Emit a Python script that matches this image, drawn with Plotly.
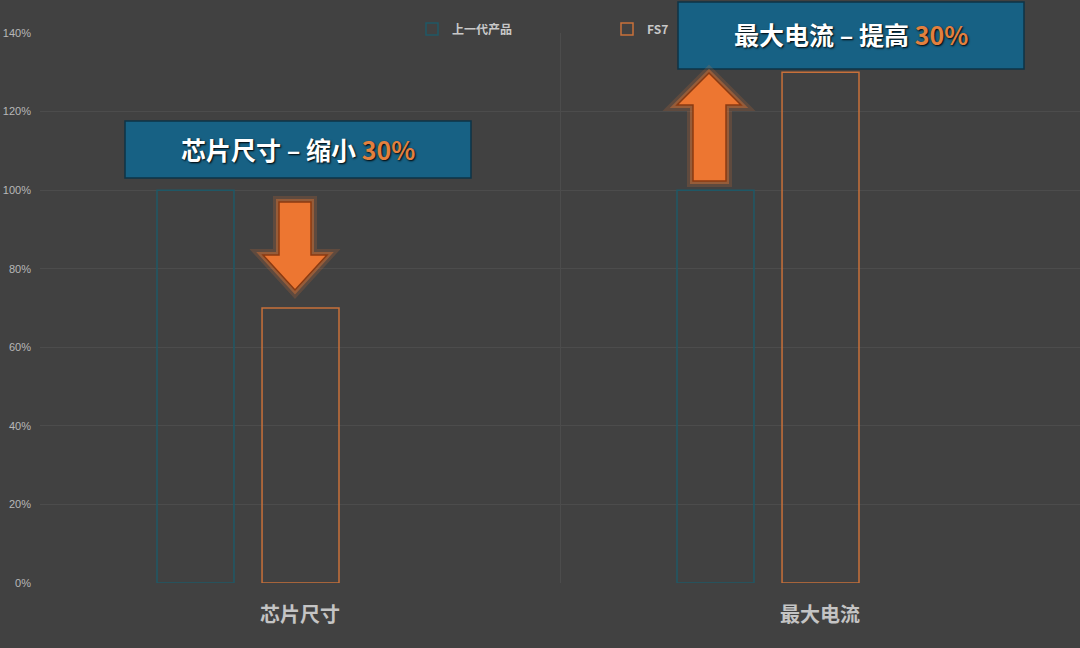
import plotly.graph_objects as go

categories = ["芯片尺寸", "最大电流"]
prev_values = [100, 100]
fs7_values = [70, 130]
series_names = ["上一代产品", "FS7"]
y_ticks = [0, 20, 40, 60, 80, 100, 120, 140]
y_tick_labels = [f"{v}%" for v in y_ticks]
callouts = [("芯片尺寸 – 缩小 ", "30%"), ("最大电流 – 提高 ", "30%")]

BG = "#414141"
GRID = "#4c4c4c"
TEAL = "#1f5866"
ORANGE = "#c8703a"
BOX = "#176184"
BOX_EDGE = "#0e3346"
ARROW = "#ed7631"
FONT = "Noto Sans CJK SC"

W, H = 1080, 648
L, R, T, B = 40, 0, 33, 65
PW, PH = W - L - R, H - T - B


def px(x):
    return (x - L) / PW


def py(y):
    return (H - B - y) / PH


fig = go.Figure()
fig.add_trace(go.Bar(
    x=categories, y=prev_values, name=series_names[0],
    width=0.148, offset=-0.275,
    marker=dict(color="rgba(0,0,0,0)", line=dict(color=TEAL, width=1.5)),
))
fig.add_trace(go.Bar(
    x=categories, y=fs7_values, name=series_names[1],
    width=0.148, offset=-0.073,
    marker=dict(color="rgba(0,0,0,0)", line=dict(color=ORANGE, width=1.5)),
))

shapes = []
annotations = []

# callout boxes
boxes = [(125, 121, 471, 178), (678, 2, 1024, 69)]
for (x0, y0, x1, y1), (t1, t2) in zip(boxes, callouts):
    shapes.append(dict(type="rect", xref="paper", yref="paper",
                       x0=px(x0), x1=px(x1), y0=py(y1), y1=py(y0),
                       fillcolor=BOX, line=dict(color=BOX_EDGE, width=1.5),
                       layer="above"))
    annotations.append(dict(
        xref="paper", yref="paper", x=px((x0 + x1) / 2), y=py((y0 + y1) / 2 - 1),
        text=f"<b>{t1}</b><b><span style='color:#e2803f'>{t2}</span></b>",
        showarrow=False, xanchor="center", yanchor="middle",
        font=dict(family=FONT, size=25, color="#ffffff",
                  shadow="1px 1px 2px #000000")))


def arrow_path(pts):
    return "M " + " L ".join(f"{px(x):.5f},{py(y):.5f}" for x, y in pts) + " Z"


down = [(279, 202), (311, 202), (311, 255), (327, 255), (295, 290),
        (263, 255), (279, 255)]
up = [(709, 73), (741, 105), (726, 105), (726, 181), (693, 181),
      (693, 105), (677, 105)]
for pts in (down, up):
    p = arrow_path(pts)
    shapes.append(dict(type="path", xref="paper", yref="paper", path=p,
                       fillcolor="rgba(0,0,0,0)",
                       line=dict(color="rgba(255,125,50,0.16)", width=12),
                       layer="above"))
    shapes.append(dict(type="path", xref="paper", yref="paper", path=p,
                       fillcolor="rgba(0,0,0,0)",
                       line=dict(color="rgba(255,125,50,0.35)", width=6),
                       layer="above"))
    shapes.append(dict(type="path", xref="paper", yref="paper", path=p,
                       fillcolor=ARROW, line=dict(color="#8a3a12", width=1.5),
                       layer="above"))

fig.update_layout(
    width=W, height=H,
    margin=dict(l=L, r=R, t=T, b=B, autoexpand=False),
    paper_bgcolor=BG, plot_bgcolor=BG,
    font=dict(family=FONT, color="#bdbdbd"),
    barmode="overlay",
    showlegend=True,
    legend=dict(orientation="h", x=px(412), xanchor="left", y=py(29),
                yanchor="middle", itemwidth=30, entrywidth=150,
                font=dict(size=12, color="#c8c8c8", family=FONT,
                          weight="bold"),
                bgcolor="rgba(0,0,0,0)"),
    xaxis=dict(type="category", range=[-0.5, 1.5], tickson="boundaries",
               showgrid=True, gridcolor=GRID, gridwidth=1, ticks="",
               showline=False, zeroline=False,
               tickfont=dict(size=20, color="#c4c4c4", family=FONT,
                             weight="bold"),
               ticklabelstandoff=18),
    yaxis=dict(range=[0, 140], tickvals=y_ticks, ticktext=y_tick_labels,
               showgrid=True, gridcolor=GRID, gridwidth=1, zeroline=False,
               tickfont=dict(size=11, color="#b8b8b8", family="Liberation Sans"),
               ticks="", ticklabelstandoff=8),
    shapes=shapes,
    annotations=annotations,
)

fig.write_html("out.html", config={"displayModeBar": False},
               post_script="document.body.style.margin='0';")
